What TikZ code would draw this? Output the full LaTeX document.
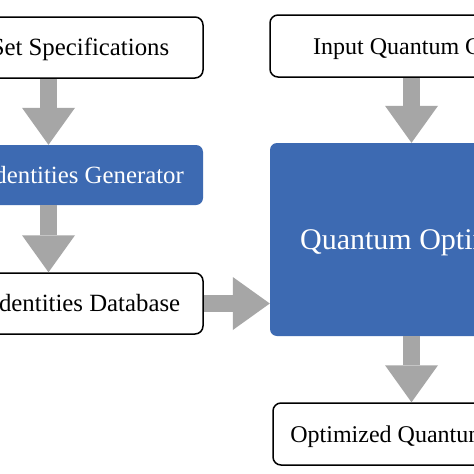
\documentclass[tikz,border=0pt]{standalone}
\usepackage{fontspec}
\setmainfont{Liberation Serif}
\usetikzlibrary{arrows.meta}
\definecolor{qblue}{RGB}{61,106,178}
\definecolor{qgray}{RGB}{166,166,166}
\tikzset{
  wbox/.style={draw=black, line width=1.5pt, rounded corners=8pt, fill=white,
    font=\fontsize{24}{28}\selectfont, text height=16pt, text depth=0pt, inner sep=0pt},
  bbox/.style={fill=qblue, rounded corners=7pt, text=white,
    font=\fontsize{24}{28}\selectfont, text height=16pt, text depth=0pt, inner sep=0pt},
  leftfont/.style={font=\fontsize{24.8}{29}\selectfont},
  garrow/.style={draw=qgray, line width=17pt,
    -{Triangle[length=37pt,width=53pt,line width=0pt]}}
}
\begin{document}
\begin{tikzpicture}[x=1pt,y=-1pt]
\clip (0,0) rectangle (474,474);
\fill[white] (0,0) rectangle (474,474);
% left column
\node[wbox, leftfont, minimum width=246pt, minimum height=61pt] (spec) at (80,47.5) {Set Specifications};
\node[bbox, leftfont, minimum width=236pt, minimum height=60pt] (gen) at (85,175) {Identities Generator};
\node[wbox, leftfont, minimum width=235pt, minimum height=61pt] (db) at (85.5,303.5) {Identities Database};
% right column
\node[wbox, minimum width=305pt, minimum height=62pt] (inp) at (422.5,46) {Input Quantum Circuit};
\node[bbox, minimum width=301pt, minimum height=193pt, font=\fontsize{30}{36}\selectfont, text height=20pt] (opt) at (420.5,239.5) {Quantum Optimizer};
\node[wbox, minimum width=304pt, minimum height=62pt] (out) at (425,434) {Optimized Quantum Circuit};
% arrow columns
\coordinate (lx) at (48.5,0);
\coordinate (rx) at (411.5,0);
\draw[garrow] (spec.south -| lx) -- (gen.north -| lx);
\draw[garrow] (gen.south -| lx) -- (db.north -| lx);
\draw[garrow] (inp.south -| rx) -- (opt.north -| rx);
\draw[garrow] (opt.south -| rx) -- (out.north -| rx);
\draw[garrow] (db.east) -- (opt.west |- db.east);
\end{tikzpicture}
\end{document}
